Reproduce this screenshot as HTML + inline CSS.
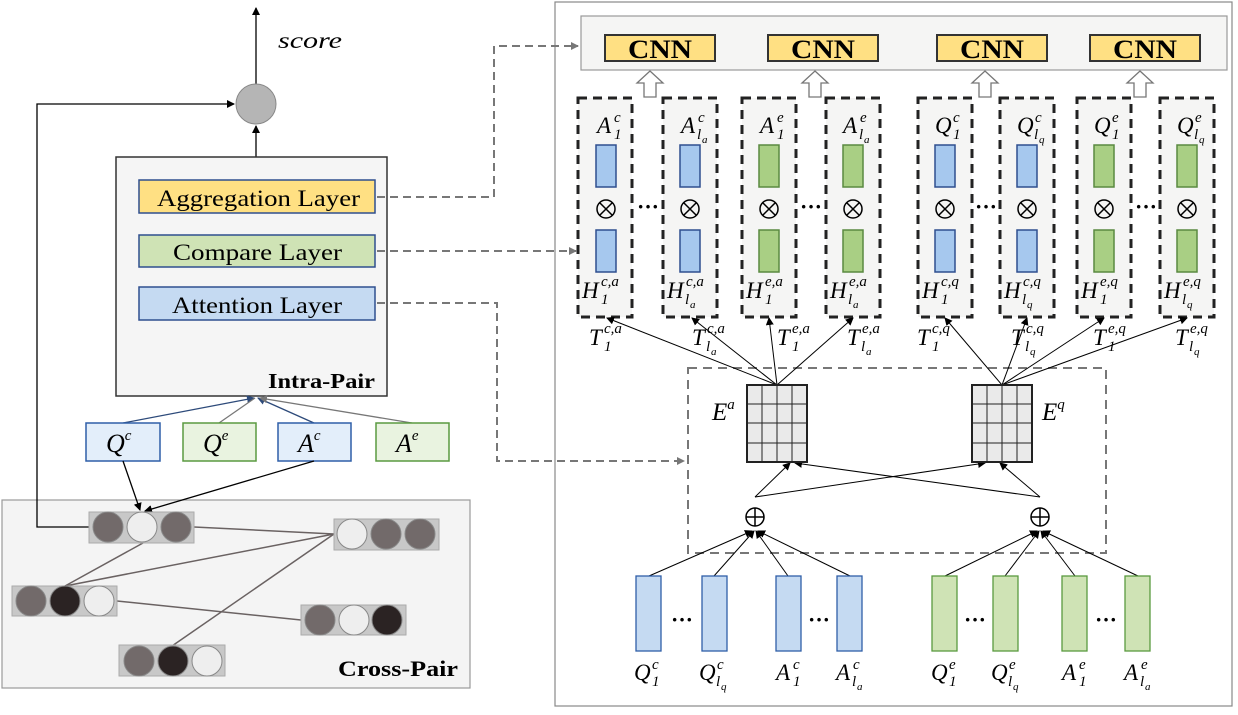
<!DOCTYPE html>
<html><head><meta charset="utf-8"><style>
body{margin:0;background:#fff}
svg text{font-family:"Liberation Serif",serif}
.m{font-style:italic;font-size:23px}
.s{font-style:italic;font-size:15px}
.t{font-style:italic;font-size:11px}
</style></head><body>
<svg width="1238" height="710" viewBox="0 0 1238 710" xmlns="http://www.w3.org/2000/svg">
<defs>
<marker id="ab" markerWidth="8" markerHeight="8" refX="7" refY="4" orient="auto" markerUnits="userSpaceOnUse"><path d="M0,0 L8,4 L0,8 z" fill="#000"/></marker>
<marker id="ag" markerWidth="8" markerHeight="8" refX="7" refY="4" orient="auto" markerUnits="userSpaceOnUse"><path d="M0,0 L8,4 L0,8 z" fill="#777"/></marker>
<marker id="an" markerWidth="8" markerHeight="8" refX="7" refY="4" orient="auto" markerUnits="userSpaceOnUse"><path d="M0,0 L8,4 L0,8 z" fill="#2d4a7a"/></marker>
<g id="ox"><circle r="9" fill="none" stroke="#000" stroke-width="1.5"/><path d="M-6.4,-6.4L6.4,6.4M6.4,-6.4L-6.4,6.4" stroke="#000" stroke-width="1.5"/></g>
<g id="op"><circle r="9" fill="none" stroke="#000" stroke-width="1.5"/><path d="M-9,0H9M0,-9V9" stroke="#000" stroke-width="1.5"/></g>
</defs>
<rect x="555" y="2" width="677" height="704" fill="#fff" stroke="#888" stroke-width="1.2"/>
<line x1="256" y1="84" x2="256" y2="8" stroke="#000" stroke-width="1.3" marker-end="url(#ab)"/>
<text x="278" y="48" font-style="italic" font-size="23" textLength="64" lengthAdjust="spacingAndGlyphs">score</text>
<circle cx="256" cy="104" r="20" fill="#b5b5b5" stroke="#888"/>
<line x1="256" y1="157" x2="256" y2="126" stroke="#000" stroke-width="1.3" marker-end="url(#ab)"/>
<rect x="116" y="157" width="271" height="239" fill="#f5f5f5" stroke="#333" stroke-width="1.5"/>
<rect x="139" y="180" width="236" height="33" fill="#ffe083" stroke="#2f4f8f" stroke-width="1.5"/>
<text x="157" y="206" font-size="23" textLength="203" lengthAdjust="spacingAndGlyphs">Aggregation Layer</text>
<rect x="139" y="235" width="236" height="32" fill="#cfe3b5" stroke="#2f4f8f" stroke-width="1.5"/>
<text x="173" y="260" font-size="23" textLength="169" lengthAdjust="spacingAndGlyphs">Compare Layer</text>
<rect x="139" y="287" width="236" height="33" fill="#c5daf2" stroke="#2f4f8f" stroke-width="1.5"/>
<text x="172" y="313" font-size="23" textLength="170" lengthAdjust="spacingAndGlyphs">Attention Layer</text>
<text x="268" y="388" font-size="21" font-weight="bold" textLength="107" lengthAdjust="spacingAndGlyphs">Intra-Pair</text>
<line x1="123" y1="423" x2="254" y2="398" stroke="#2d4a7a" stroke-width="1.3" marker-end="url(#an)"/>
<line x1="219" y1="423" x2="255" y2="398" stroke="#777" stroke-width="1.3"/>
<line x1="314" y1="423" x2="258" y2="398" stroke="#2d4a7a" stroke-width="1.3" marker-end="url(#an)"/>
<line x1="412" y1="423" x2="260" y2="398" stroke="#777" stroke-width="1.3" marker-end="url(#ag)"/>
<rect x="86" y="423" width="74" height="38" fill="#e3eefa" stroke="#2f5fa8" stroke-width="1.5"/>
<rect x="183" y="423" width="73" height="38" fill="#e9f3e0" stroke="#5a9a40" stroke-width="1.5"/>
<rect x="278" y="423" width="73" height="38" fill="#e3eefa" stroke="#2f5fa8" stroke-width="1.5"/>
<rect x="376" y="423" width="73" height="38" fill="#e9f3e0" stroke="#5a9a40" stroke-width="1.5"/>
<text x="106" y="452" font-style="italic" font-size="26">Q<tspan class="s" font-size="17" dy="-12">c</tspan></text>
<text x="203" y="452" font-style="italic" font-size="26">Q<tspan class="s" font-size="17" dy="-12">e</tspan></text>
<text x="298" y="452" font-style="italic" font-size="26">A<tspan class="s" font-size="17" dy="-12">c</tspan></text>
<text x="396" y="452" font-style="italic" font-size="26">A<tspan class="s" font-size="17" dy="-12">e</tspan></text>
<rect x="2" y="500" width="468" height="188" fill="#f4f4f4" stroke="#999" stroke-width="1.2"/>
<text x="338" y="676" font-size="22" font-weight="bold" textLength="120" lengthAdjust="spacingAndGlyphs">Cross-Pair</text>
<polyline points="89,527 37,527 37,104 234,104" fill="none" stroke="#000" stroke-width="1.3" marker-end="url(#ab)"/>
<line x1="123" y1="461" x2="140" y2="510" stroke="#000" stroke-width="1.3" marker-end="url(#ab)"/>
<line x1="314" y1="461" x2="145" y2="511" stroke="#000" stroke-width="1.3" marker-end="url(#ab)"/>
<g stroke="#6a6262" stroke-width="1.5">
<line x1="194" y1="527" x2="334" y2="534"/><line x1="143" y1="543" x2="65" y2="586"/>
<line x1="65" y1="586" x2="334" y2="534"/><line x1="117" y1="601" x2="301" y2="620"/>
<line x1="172" y1="646" x2="334" y2="534"/></g>
<g stroke="#aaa" stroke-width="1">
<rect x="89" y="512" width="105" height="31" fill="#c8c8c8"/>
<rect x="334" y="519" width="105" height="31" fill="#c8c8c8"/>
<rect x="12" y="586" width="105" height="30" fill="#c8c8c8"/>
<rect x="301" y="605" width="105" height="30" fill="#c8c8c8"/>
<rect x="119" y="645" width="106" height="31" fill="#c8c8c8"/></g>
<g stroke="#888" stroke-width="1">
<circle cx="108" cy="527" r="15" fill="#726a6a"/><circle cx="142" cy="527" r="15" fill="#eee"/><circle cx="176" cy="527" r="15" fill="#726a6a"/>
<circle cx="352" cy="534" r="15" fill="#eee"/><circle cx="386" cy="534" r="15" fill="#726a6a"/><circle cx="420" cy="534" r="15" fill="#726a6a"/>
<circle cx="31" cy="601" r="15" fill="#726a6a"/><circle cx="65" cy="601" r="15" fill="#2b2323"/><circle cx="99" cy="601" r="15" fill="#eee"/>
<circle cx="320" cy="620" r="15" fill="#726a6a"/><circle cx="354" cy="620" r="15" fill="#eee"/><circle cx="387" cy="620" r="15" fill="#2b2323"/>
<circle cx="139" cy="661" r="15" fill="#726a6a"/><circle cx="173" cy="661" r="15" fill="#2b2323"/><circle cx="207" cy="661" r="15" fill="#eee"/></g>
<g stroke="#777" stroke-width="2" stroke-dasharray="8,5" fill="none">
<polyline points="377,197 494,197 494,46 578,46" marker-end="url(#ag)"/>
<polyline points="377,251 576,251" marker-end="url(#ag)"/>
<polyline points="377,303 497,303 497,461 684,461" marker-end="url(#ag)"/>
</g>
<rect x="581" y="16" width="646" height="54" fill="#f5f5f4" stroke="#999" stroke-width="1.2"/>
<g stroke="#333" stroke-width="2" fill="#ffe083">
<rect x="605" y="35" width="110" height="26"/><rect x="768" y="35" width="110" height="26"/>
<rect x="937" y="35" width="110" height="26"/><rect x="1090" y="35" width="110" height="26"/></g>
<g font-size="26" font-weight="bold">
<text x="628" y="58" textLength="64" lengthAdjust="spacingAndGlyphs">CNN</text>
<text x="791" y="58" textLength="64" lengthAdjust="spacingAndGlyphs">CNN</text>
<text x="960" y="58" textLength="64" lengthAdjust="spacingAndGlyphs">CNN</text>
<text x="1113" y="58" textLength="64" lengthAdjust="spacingAndGlyphs">CNN</text></g>
<g fill="#fff" stroke="#777" stroke-width="1.3">
<path d="M644,97 v-14 h-7 l13,-12 l13,12 h-7 v14 z"/>
<path d="M809,97 v-14 h-7 l13,-12 l13,12 h-7 v14 z"/>
<path d="M979,97 v-14 h-7 l13,-12 l13,12 h-7 v14 z"/>
<path d="M1134,97 v-14 h-7 l13,-12 l13,12 h-7 v14 z"/></g>
<g stroke="#222" stroke-width="3" stroke-dasharray="9,6" fill="#f5f5f4">
<rect x="578" y="98" width="54" height="219"/><rect x="663" y="98" width="54" height="219"/>
<rect x="742" y="98" width="54" height="219"/><rect x="826" y="98" width="54" height="219"/>
<rect x="918" y="98" width="54" height="219"/><rect x="1000" y="98" width="54" height="219"/>
<rect x="1077" y="98" width="54" height="219"/><rect x="1160" y="98" width="54" height="219"/></g>
<g stroke-width="1.5">
<g fill="#a6c8ee" stroke="#2f4f8f">
<rect x="596" y="145" width="20" height="42"/><rect x="596" y="230" width="20" height="42"/>
<rect x="680" y="145" width="20" height="42"/><rect x="680" y="230" width="20" height="42"/>
<rect x="935" y="145" width="20" height="42"/><rect x="935" y="230" width="20" height="42"/>
<rect x="1017" y="145" width="20" height="42"/><rect x="1017" y="230" width="20" height="42"/></g>
<g fill="#a9cf84" stroke="#5a8a40">
<rect x="759" y="145" width="20" height="42"/><rect x="759" y="230" width="20" height="42"/>
<rect x="843" y="145" width="20" height="42"/><rect x="843" y="230" width="20" height="42"/>
<rect x="1094" y="145" width="20" height="42"/><rect x="1094" y="230" width="20" height="42"/>
<rect x="1177" y="145" width="20" height="42"/><rect x="1177" y="230" width="20" height="42"/></g></g>
<use href="#ox" x="606" y="209"/><use href="#ox" x="690" y="209"/><use href="#ox" x="769" y="209"/><use href="#ox" x="853" y="209"/>
<use href="#ox" x="945" y="209"/><use href="#ox" x="1027" y="209"/><use href="#ox" x="1104" y="209"/><use href="#ox" x="1187" y="209"/>
<g font-size="22" font-weight="bold" text-anchor="middle">
<text x="648" y="214">···</text><text x="811" y="214">···</text><text x="986" y="214">···</text><text x="1146" y="214">···</text></g>
<text class="m" x="597" y="133">A<tspan class="s" x="614" y="122">c</tspan><tspan class="s" x="614" y="139">1</tspan></text>
<text class="m" x="681" y="133">A<tspan class="s" x="698" y="122">c</tspan><tspan class="s" x="697" y="139">l</tspan><tspan class="t" x="702" y="143">a</tspan></text>
<text class="m" x="760" y="133">A<tspan class="s" x="777" y="122">e</tspan><tspan class="s" x="777" y="139">1</tspan></text>
<text class="m" x="843" y="133">A<tspan class="s" x="860" y="122">e</tspan><tspan class="s" x="859" y="139">l</tspan><tspan class="t" x="864" y="143">a</tspan></text>
<text class="m" x="935" y="133">Q<tspan class="s" x="953" y="122">c</tspan><tspan class="s" x="953" y="139">1</tspan></text>
<text class="m" x="1017" y="133">Q<tspan class="s" x="1035" y="122">c</tspan><tspan class="s" x="1034" y="139">l</tspan><tspan class="t" x="1039" y="143">q</tspan></text>
<text class="m" x="1094" y="133">Q<tspan class="s" x="1112" y="122">e</tspan><tspan class="s" x="1112" y="139">1</tspan></text>
<text class="m" x="1177" y="133">Q<tspan class="s" x="1195" y="122">e</tspan><tspan class="s" x="1194" y="139">l</tspan><tspan class="t" x="1199" y="143">q</tspan></text>
<text class="m" x="582" y="298">H<tspan class="s" x="601" y="286">c,a</tspan><tspan class="s" x="601" y="304">1</tspan></text>
<text class="m" x="667" y="298">H<tspan class="s" x="686" y="286">c,a</tspan><tspan class="s" x="685" y="304">l</tspan><tspan class="t" x="690" y="308">a</tspan></text>
<text class="m" x="746" y="298">H<tspan class="s" x="765" y="286">e,a</tspan><tspan class="s" x="765" y="304">1</tspan></text>
<text class="m" x="830" y="298">H<tspan class="s" x="849" y="286">e,a</tspan><tspan class="s" x="848" y="304">l</tspan><tspan class="t" x="853" y="308">a</tspan></text>
<text class="m" x="922" y="298">H<tspan class="s" x="941" y="286">c,q</tspan><tspan class="s" x="941" y="304">1</tspan></text>
<text class="m" x="1004" y="298">H<tspan class="s" x="1023" y="286">c,q</tspan><tspan class="s" x="1022" y="304">l</tspan><tspan class="t" x="1027" y="308">q</tspan></text>
<text class="m" x="1081" y="298">H<tspan class="s" x="1100" y="286">e,q</tspan><tspan class="s" x="1100" y="304">1</tspan></text>
<text class="m" x="1164" y="298">H<tspan class="s" x="1183" y="286">e,q</tspan><tspan class="s" x="1182" y="304">l</tspan><tspan class="t" x="1187" y="308">q</tspan></text>
<text class="m" x="589" y="345">T<tspan class="s" x="604" y="333">c,a</tspan><tspan class="s" x="604" y="351">1</tspan></text>
<text class="m" x="692" y="345">T<tspan class="s" x="707" y="333">c,a</tspan><tspan class="s" x="706" y="351">l</tspan><tspan class="t" x="711" y="355">a</tspan></text>
<text class="m" x="777" y="345">T<tspan class="s" x="792" y="333">e,a</tspan><tspan class="s" x="792" y="351">1</tspan></text>
<text class="m" x="847" y="345">T<tspan class="s" x="862" y="333">e,a</tspan><tspan class="s" x="861" y="351">l</tspan><tspan class="t" x="866" y="355">a</tspan></text>
<text class="m" x="917" y="345">T<tspan class="s" x="932" y="333">c,q</tspan><tspan class="s" x="932" y="351">1</tspan></text>
<text class="m" x="1011" y="345">T<tspan class="s" x="1026" y="333">c,q</tspan><tspan class="s" x="1025" y="351">l</tspan><tspan class="t" x="1030" y="355">q</tspan></text>
<text class="m" x="1093" y="345">T<tspan class="s" x="1108" y="333">e,q</tspan><tspan class="s" x="1108" y="351">1</tspan></text>
<text class="m" x="1175" y="345">T<tspan class="s" x="1190" y="333">e,q</tspan><tspan class="s" x="1189" y="351">l</tspan><tspan class="t" x="1194" y="355">q</tspan></text>
<rect x="688" y="368" width="418" height="185" fill="none" stroke="#777" stroke-width="2" stroke-dasharray="9,6"/>
<g stroke="#000" stroke-width="1" marker-end="url(#ab)">
<line x1="777" y1="385" x2="607" y2="318"/><line x1="777" y1="385" x2="692" y2="318"/>
<line x1="777" y1="385" x2="769" y2="318"/><line x1="777" y1="385" x2="853" y2="318"/>
<line x1="1002" y1="385" x2="945" y2="318"/><line x1="1002" y1="385" x2="1027" y2="318"/>
<line x1="1002" y1="385" x2="1104" y2="318"/><line x1="1002" y1="385" x2="1187" y2="318"/>
<line x1="755" y1="497" x2="790" y2="463"/><line x1="755" y1="497" x2="985" y2="463"/>
<line x1="1040" y1="497" x2="1000" y2="463"/><line x1="1040" y1="497" x2="795" y2="463"/>
<line x1="649" y1="576" x2="752" y2="531"/><line x1="714" y1="576" x2="754" y2="531"/>
<line x1="788" y1="576" x2="756" y2="531"/><line x1="850" y1="576" x2="758" y2="531"/>
<line x1="945" y1="576" x2="1037" y2="531"/><line x1="1005" y1="576" x2="1039" y2="531"/>
<line x1="1075" y1="576" x2="1041" y2="531"/><line x1="1138" y1="576" x2="1043" y2="531"/>
</g>
<g stroke="#222" stroke-width="1">
<rect x="747" y="385" width="60" height="77" fill="#eaeaea" stroke-width="2"/>
<path d="M762,385v77M777,385v77M792,385v77M747,404h60M747,423h60M747,443h60"/>
<rect x="972" y="385" width="60" height="77" fill="#eaeaea" stroke-width="2"/>
<path d="M987,385v77M1002,385v77M1017,385v77M972,404h60M972,423h60M972,443h60"/>
</g>
<text x="712" y="420" font-style="italic" font-size="25">E<tspan class="s" font-size="17" dy="-11">a</tspan></text>
<text x="1042" y="420" font-style="italic" font-size="25">E<tspan class="s" font-size="17" dy="-11">q</tspan></text>
<use href="#op" x="755" y="517"/><use href="#op" x="1040" y="517"/>
<g stroke-width="1.3">
<g fill="#c5daf2" stroke="#2f5fa8">
<rect x="636" y="576" width="25" height="75"/><rect x="702" y="576" width="25" height="75"/>
<rect x="776" y="576" width="25" height="75"/><rect x="837" y="576" width="25" height="75"/></g>
<g fill="#cfe3b5" stroke="#5a9a40">
<rect x="932" y="576" width="25" height="75"/><rect x="993" y="576" width="25" height="75"/>
<rect x="1062" y="576" width="25" height="75"/><rect x="1125" y="576" width="25" height="75"/></g></g>
<g font-size="22" font-weight="bold" text-anchor="middle">
<text x="682" y="627">···</text><text x="819" y="627">···</text><text x="975" y="627">···</text><text x="1106" y="627">···</text></g>
<text class="m" x="634" y="680">Q<tspan class="s" x="652" y="669">c</tspan><tspan class="s" x="652" y="686">1</tspan></text>
<text class="m" x="699" y="680">Q<tspan class="s" x="717" y="669">c</tspan><tspan class="s" x="716" y="686">l</tspan><tspan class="t" x="721" y="690">q</tspan></text>
<text class="m" x="776" y="680">A<tspan class="s" x="793" y="669">c</tspan><tspan class="s" x="793" y="686">1</tspan></text>
<text class="m" x="836" y="680">A<tspan class="s" x="853" y="669">c</tspan><tspan class="s" x="852" y="686">l</tspan><tspan class="t" x="857" y="690">a</tspan></text>
<text class="m" x="931" y="680">Q<tspan class="s" x="949" y="669">e</tspan><tspan class="s" x="949" y="686">1</tspan></text>
<text class="m" x="991" y="680">Q<tspan class="s" x="1009" y="669">e</tspan><tspan class="s" x="1008" y="686">l</tspan><tspan class="t" x="1013" y="690">q</tspan></text>
<text class="m" x="1062" y="680">A<tspan class="s" x="1079" y="669">e</tspan><tspan class="s" x="1079" y="686">1</tspan></text>
<text class="m" x="1124" y="680">A<tspan class="s" x="1141" y="669">e</tspan><tspan class="s" x="1140" y="686">l</tspan><tspan class="t" x="1145" y="690">a</tspan></text>
</svg>
</body></html>
